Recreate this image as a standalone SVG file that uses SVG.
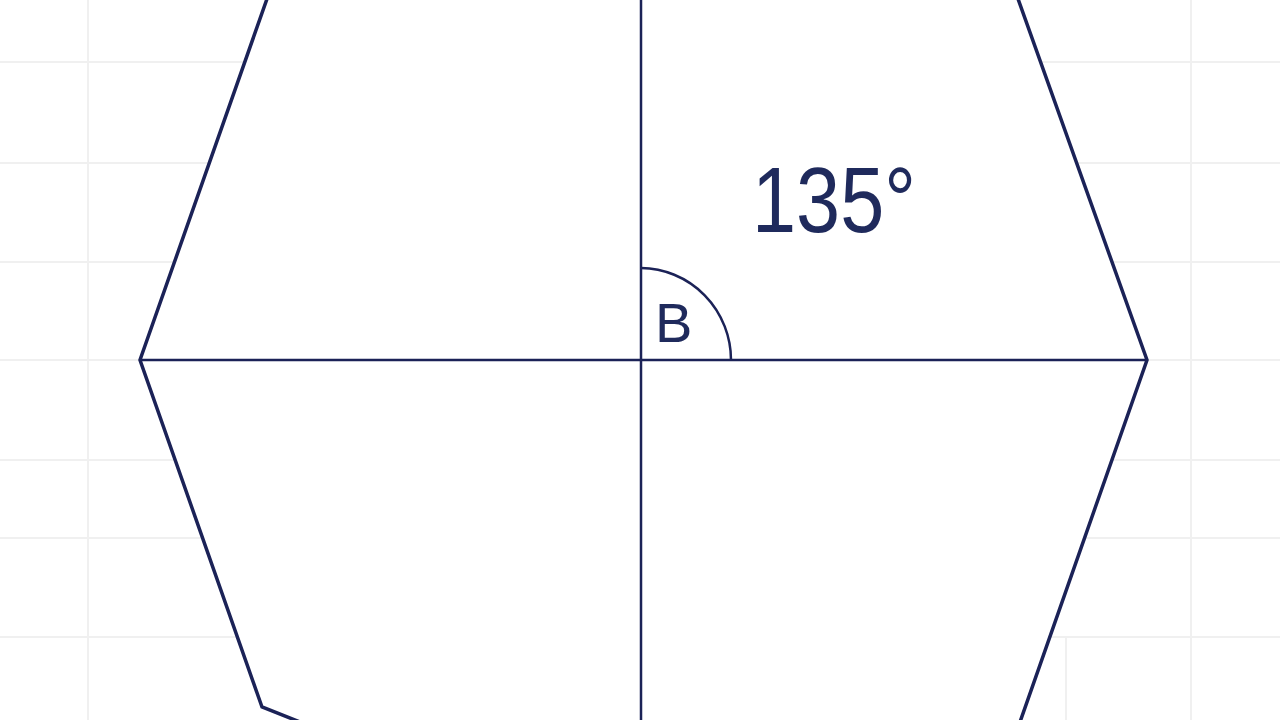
<svg xmlns="http://www.w3.org/2000/svg" width="1280" height="720" viewBox="0 0 1280 720">
<style>
.grid{stroke:#f0f0f0;stroke-width:2;fill:none}
.edge{stroke:#1b2257;stroke-width:3.5;fill:#ffffff;stroke-linejoin:miter}
.axis{stroke:#1b2257;stroke-width:2.5;fill:none}
.lbl{font-family:"Liberation Sans",Arial,sans-serif;fill:#1f2a5c}
</style>
<rect width="1280" height="720" fill="#ffffff"/>
<g id="grid" class="grid">
<line x1="0" y1="62" x2="1280" y2="62"/>
<line x1="0" y1="163" x2="1280" y2="163"/>
<line x1="0" y1="262" x2="1280" y2="262"/>
<line x1="0" y1="360" x2="1280" y2="360"/>
<line x1="0" y1="460" x2="1280" y2="460"/>
<line x1="0" y1="538" x2="1280" y2="538"/>
<line x1="0" y1="637" x2="1280" y2="637"/>
<line x1="88" y1="0" x2="88" y2="720"/>
<line x1="1191" y1="0" x2="1191" y2="720"/>
<line x1="1066" y1="637" x2="1066" y2="720"/>
</g>
<g id="shape">
<polygon class="edge" points="268,-4 1017,-4 1147,360 1020,722 300,722 262,707 140,360"/>
</g>
<g id="connectors">
<line class="axis" x1="141" y1="360" x2="1146" y2="360"/>
<line class="axis" x1="641" y1="0" x2="641" y2="720"/>
<path class="axis" d="M641,268 A91,92 0 0 1 731,360" stroke-width="3.2"/>
</g>
<rect x="0" y="-10" width="1280" height="8" fill="#ffffff"/>
<g id="label-B">
<text class="lbl" x="655" y="342" font-size="56">B</text>
</g>
<g id="label-angle">
<text class="lbl" x="752" y="232" font-size="92" textLength="164" lengthAdjust="spacingAndGlyphs">135°</text>
</g>
</svg>
